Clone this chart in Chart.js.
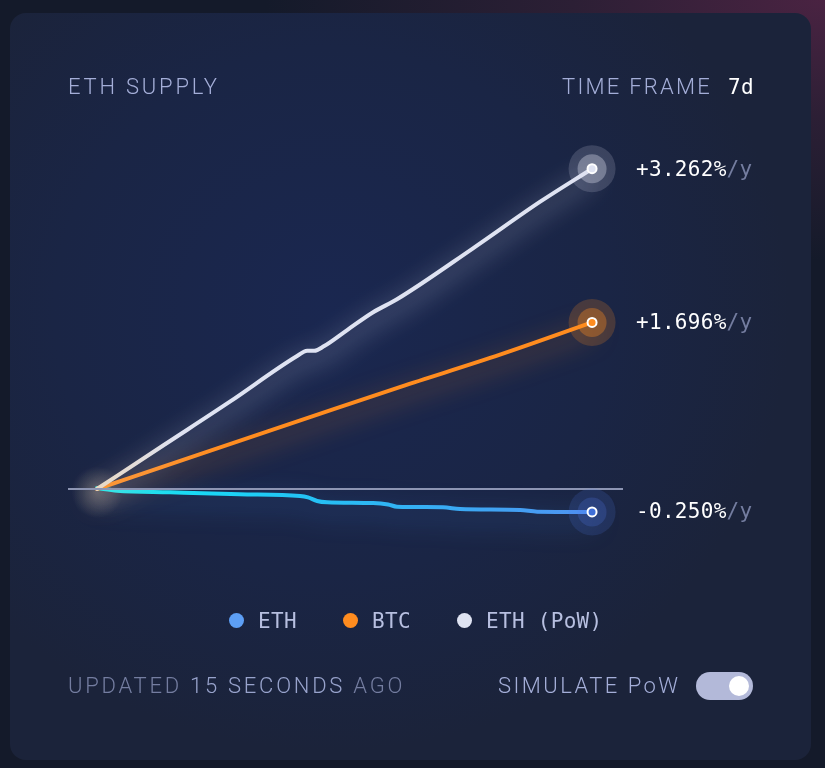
<!DOCTYPE html>
<html>
<head>
<meta charset="utf-8">
<title>ETH Supply</title>
<script src="https://cdn.jsdelivr.net/npm/chart.js@4"></script>
<style>
    html, body { margin: 0; width: 825px; height: 768px; overflow: hidden; }
    body {
        position: relative;
        background: radial-gradient(ellipse 560px 260px at 100% 0, #4a2342 0%, #2c1f35 45%, rgba(20,24,38,0) 100%), #141a2a;
        font-family: Roboto, sans-serif;
    }
    #panel {
        position: absolute; left: 10px; top: 13px; width: 801px; height: 747px; border-radius: 16px;
        background: radial-gradient(ellipse 460px 440px at 40% 40%, #1a2750 0%, #1a2545 60%, #1b233a 100%);
    }
    #cryptoChart { position: absolute; left: 0; top: 0; }
    .txt { position: absolute; white-space: nowrap; font-size: 22px; line-height: 24px; font-weight: 300; color: #a4aed8; }
    .mono { font-family: "DejaVu Sans Mono", monospace; font-weight: 400; letter-spacing: 0.3px; font-size: 21px; }
    .dim { color: #747da0; }
    .dot { position: absolute; width: 15px; height: 15px; border-radius: 50%; }
    #toggle { position: absolute; left: 696px; top: 672px; width: 57px; height: 28px; border-radius: 14px; background: #b3b9d9; }
    #toggle div { position: absolute; right: 4px; top: 4px; width: 20px; height: 20px; border-radius: 50%; background: #fff; }
</style>
</head>
<body>
<div id="panel"></div>
<canvas id="cryptoChart" width="825" height="768"></canvas>
<div class="txt" style="left:68px;top:75px;letter-spacing:2.8px">ETH SUPPLY</div>
<div class="txt" style="left:562px;top:75px;letter-spacing:2.25px">TIME FRAME</div>
<div class="txt mono" style="left:728px;top:75px;color:#fff">7d</div>
<div id="ends"></div>
<div id="legend"></div>
<div class="txt" style="left:68px;top:674px;letter-spacing:2.75px"><span class="dim">UPDATED</span> <span style="color:#98a3cc">15 SECONDS</span> <span class="dim">AGO</span></div>
<div class="txt" style="left:498px;top:674px;letter-spacing:2.45px">SIMULATE PoW</div>
<div id="toggle"><div></div></div>

<script>
// hours since the start of the 7d window
const powHours = [0, 22.7, 45.1, 67.9, 71.3, 73.7, 77.1, 84.9, 93.7, 101.8, 127.6, 150.4, 168];
const powValues = [0, 0.448, 0.889, 1.354, 1.408, 1.408, 1.456, 1.619, 1.80, 1.932, 2.451, 2.926, 3.262];

const btcHours = [0, 35, 69, 103, 137, 168];
const btcValues = [0, 0.356, 0.698, 1.04, 1.37, 1.696];

const ethHours = [0, 6.8, 24.8, 48.5, 68.9, 71.6, 74.7, 78.1, 93.7, 98.8, 101.8, 117.4, 123.2, 143.6, 149.4, 168];
const ethValues = [0.01, -0.017, -0.034, -0.054, -0.071, -0.085, -0.122, -0.135, -0.143, -0.158, -0.18, -0.186, -0.204, -0.214, -0.231, -0.234];

const legendNames = ["ETH", "BTC", "ETH (PoW)"];
const legendColors = ["#5d9ff5", "#ff8c1f", "#dfe3f2"];
const legendX = [229, 343, 457];

const endLabels = ["+3.262%", "+1.696%", "-0.250%"];
const endLabelY = [157, 310, 499];

const xMin = -9.84, xMax = 178.5;
const yMin = -0.723, yMax = 3.656;

function toPoints(xs, ys) {
    return xs.map((x, i) => ({ x: x, y: ys[i] }));
}

// legend + right hand labels are plain text
legendNames.forEach((name, i) => {
    document.getElementById("legend").innerHTML +=
        '<div class="dot" style="left:' + legendX[i] + 'px;top:613px;background:' + legendColors[i] + '"></div>' +
        '<div class="txt mono" style="left:' + (legendX[i] + 29) + 'px;top:609px;color:#b7bfe0">' + name + '</div>';
});
endLabels.forEach((label, i) => {
    document.getElementById("ends").innerHTML +=
        '<div class="txt mono" style="left:636px;top:' + endLabelY[i] + 'px;color:#fff">' + label + '<span class="dim">/y</span></div>';
});

const canvas = document.getElementById("cryptoChart");
const ctx = canvas.getContext("2d");

const ethGradient = ctx.createLinearGradient(97, 0, 592, 0);
ethGradient.addColorStop(0, "#10f0fa");
ethGradient.addColorStop(0.4, "#22c4f5");
ethGradient.addColorStop(1, "#4f93f2");

const powGradient = ctx.createLinearGradient(97, 0, 180, 0);
powGradient.addColorStop(0, "#e8d8c4");
powGradient.addColorStop(1, "#dfe3f2");

// soft glow under the lines, halo rings on the last point
const glowPlugin = {
    id: "glow",
    beforeDatasetsDraw(chart) {
        const c = chart.ctx;
        const x = chart.scales.x.getPixelForValue(0);
        const y = chart.scales.y.getPixelForValue(0) + 3;
        const g = c.createRadialGradient(x, y, 0, x, y, 26);
        g.addColorStop(0, "rgba(225,205,175,0.3)");
        g.addColorStop(1, "rgba(225,205,175,0)");
        c.save();
        c.fillStyle = g;
        c.beginPath();
        c.arc(x, y, 26, 0, Math.PI * 2);
        c.fill();
        c.restore();
    },
    beforeDatasetDraw(chart, args) {
        const ds = chart.data.datasets[args.index];
        if (!ds.glow) return;
        chart.ctx.save();
        chart.ctx.shadowColor = ds.glow;
        chart.ctx.shadowBlur = 26;
        chart.ctx.shadowOffsetY = 8;
    },
    afterDatasetDraw(chart, args) {
        if (chart.data.datasets[args.index].glow) chart.ctx.restore();
    },
    afterDatasetsDraw(chart) {
        const c = chart.ctx;
        chart.data.datasets.forEach((ds, i) => {
            if (!ds.halo) return;
            const pts = chart.getDatasetMeta(i).data;
            const p = pts[pts.length - 1];
            c.save();
            c.fillStyle = ds.halo;
            c.beginPath(); c.arc(p.x, p.y, 23.5, 0, Math.PI * 2); c.fill();
            c.fillStyle = ds.haloInner;
            c.beginPath(); c.arc(p.x, p.y, 14.5, 0, Math.PI * 2); c.fill();
            c.fillStyle = ds.dotColor;
            c.strokeStyle = "#fff";
            c.lineWidth = 2;
            c.beginPath(); c.arc(p.x, p.y, 4.5, 0, Math.PI * 2); c.fill(); c.stroke();
            c.restore();
        });
    }
};

new Chart(ctx, {
    type: "line",
    data: {
        datasets: [
            {
                label: "zero",
                data: toPoints([xMin, xMax], [0, 0]),
                borderColor: "#8d95b3",
                borderWidth: 2
            },
            {
                label: "ETH (PoW)",
                data: toPoints(powHours, powValues),
                borderColor: powGradient,
                borderWidth: 4,
                glow: "rgba(220,225,245,0.85)",
                halo: "rgba(223,227,242,0.17)",
                haloInner: "rgba(223,227,242,0.35)",
                dotColor: "#dfe3f2"
            },
            {
                label: "BTC",
                data: toPoints(btcHours, btcValues),
                borderColor: "#ff8c1f",
                borderWidth: 4,
                glow: "rgba(255,140,31,0.7)",
                halo: "rgba(255,140,31,0.2)",
                haloInner: "rgba(255,140,31,0.35)",
                dotColor: "#ff8c1f"
            },
            {
                label: "ETH",
                data: toPoints(ethHours, ethValues),
                borderColor: ethGradient,
                borderWidth: 4,
                glow: "rgba(70,150,245,0.55)",
                halo: "rgba(80,125,235,0.16)",
                haloInner: "rgba(80,125,235,0.22)",
                dotColor: "#3f6fd8"
            }
        ]
    },
    options: {
        responsive: false,
        animation: false,
        layout: { padding: { left: 68, right: 202, top: 130, bottom: 208 } },
        plugins: { legend: { display: false }, tooltip: { enabled: false } },
        elements: {
            point: { radius: 0 },
            line: { cubicInterpolationMode: "monotone", borderCapStyle: "round", borderJoinStyle: "round" }
        },
        scales: {
            x: { type: "linear", display: false, min: xMin, max: xMax },
            y: { type: "linear", display: false, min: yMin, max: yMax }
        }
    },
    plugins: [glowPlugin]
});
</script>
</body>
</html>
